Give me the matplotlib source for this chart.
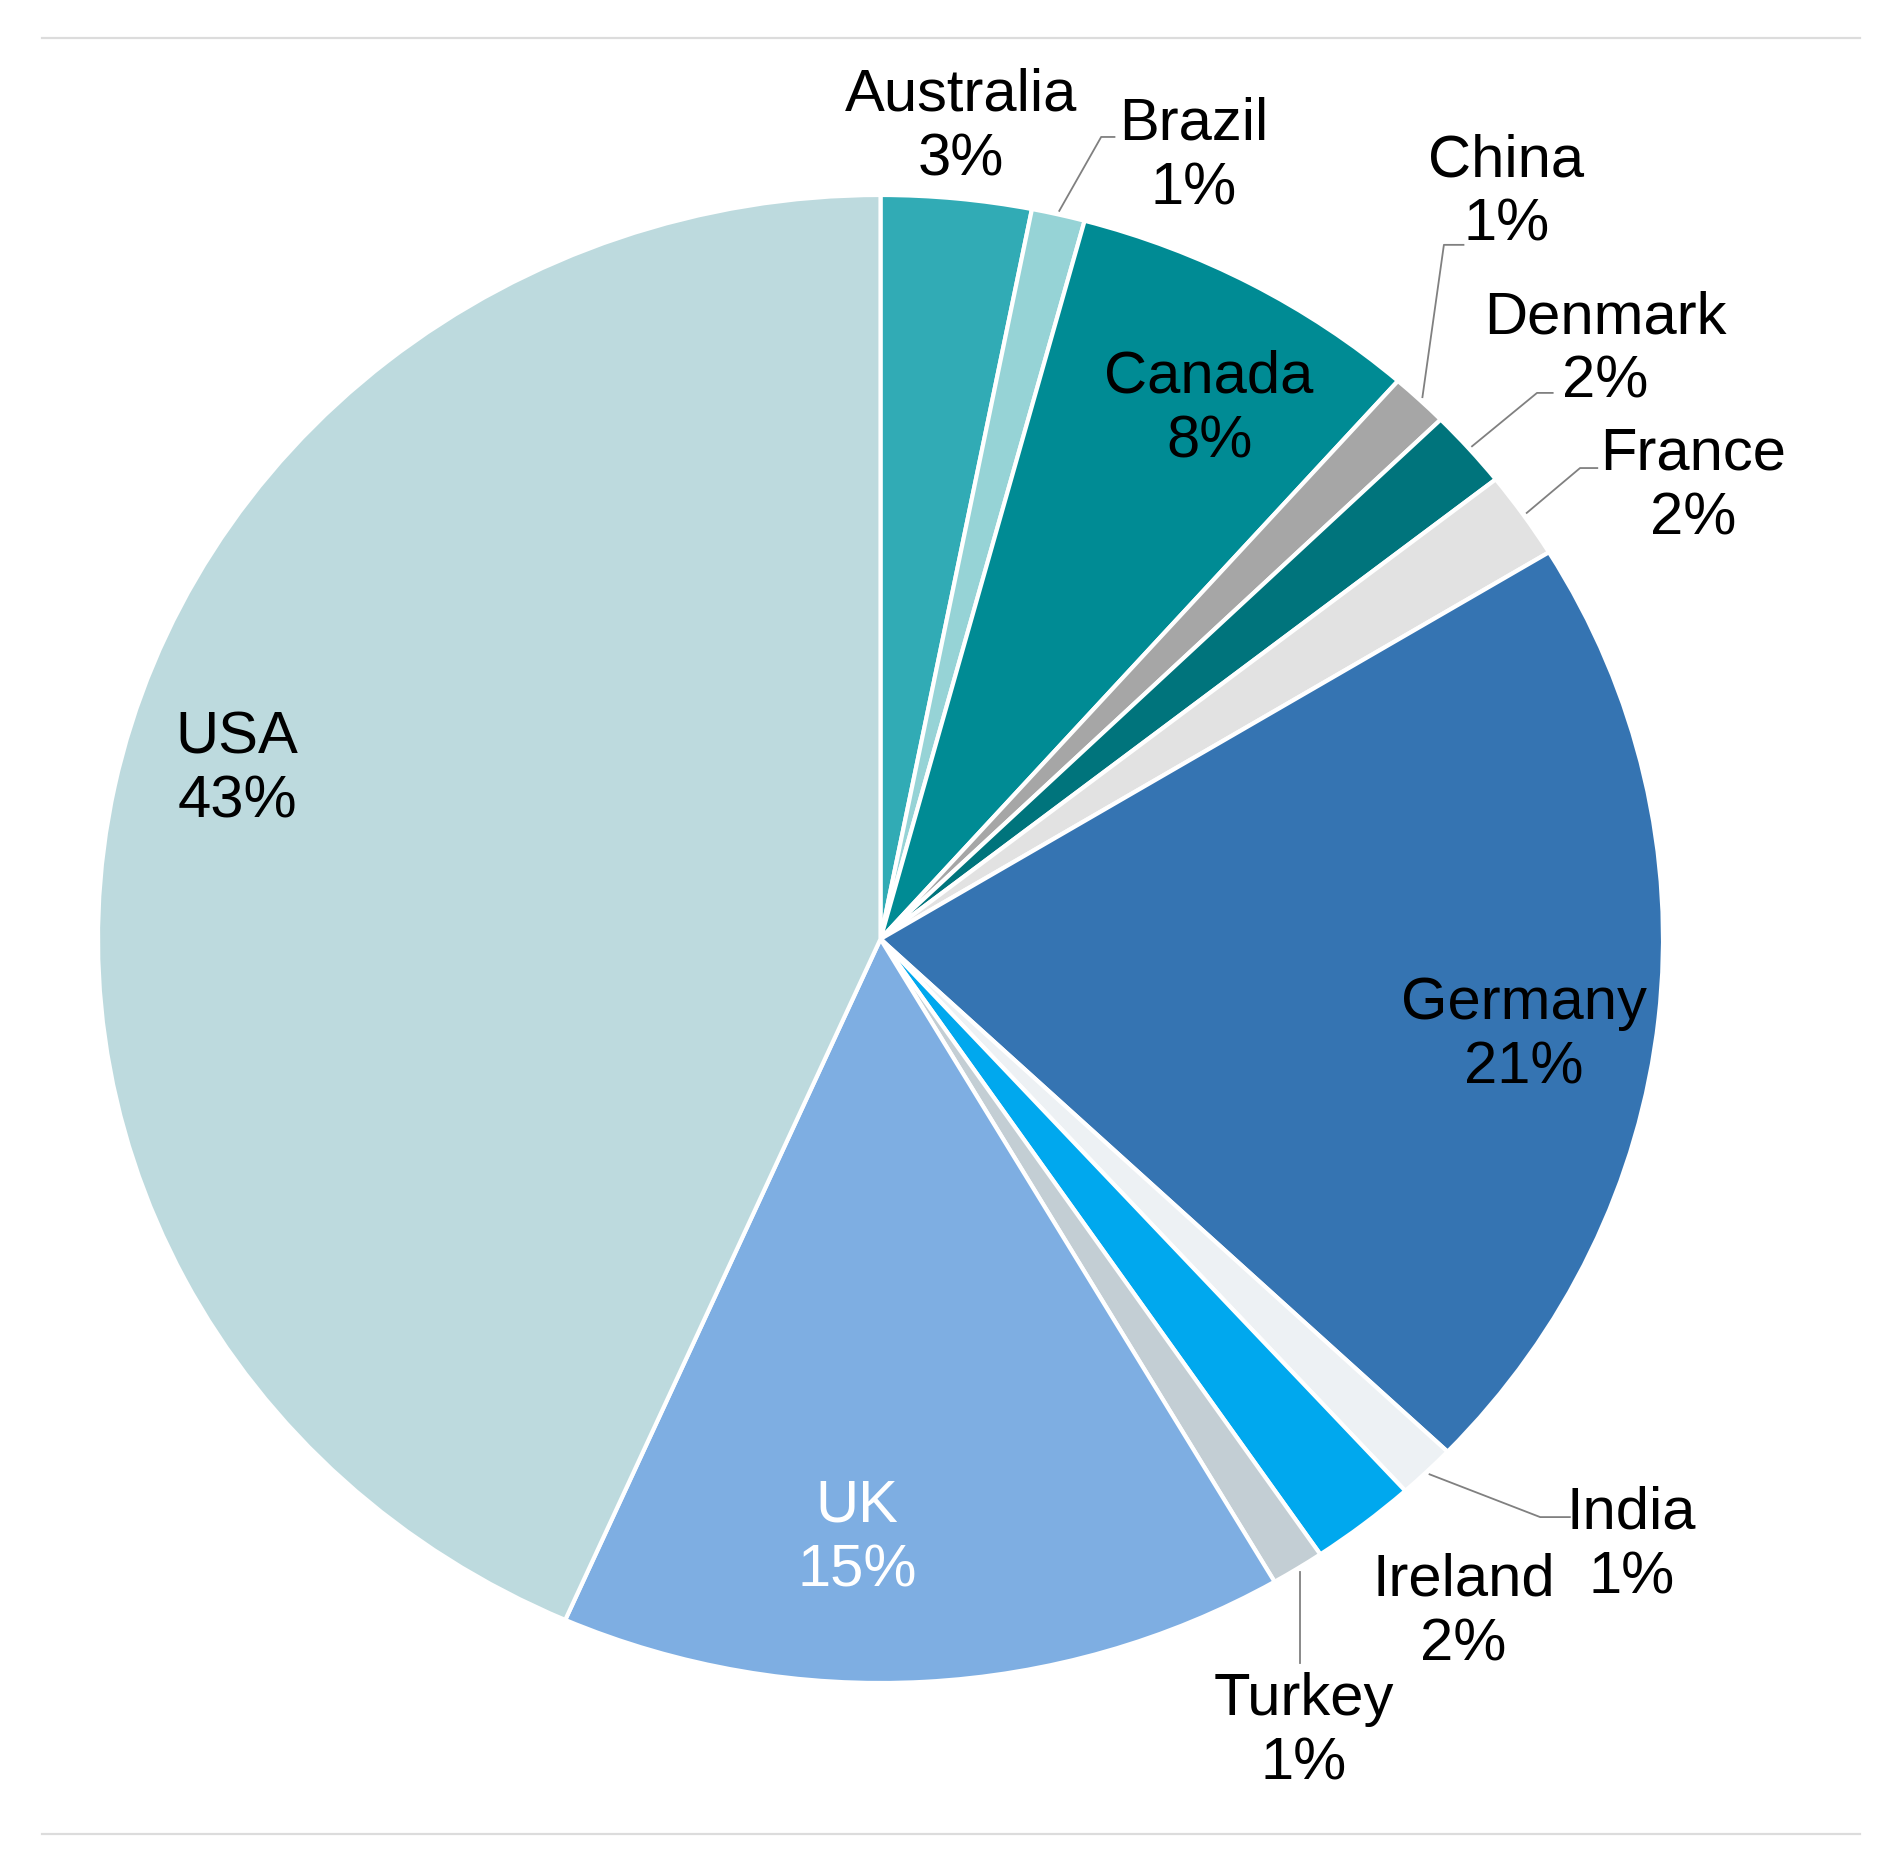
import matplotlib
matplotlib.use("Agg")
import matplotlib.pyplot as plt
from matplotlib.lines import Line2D
import numpy as np

plt.rcParams['font.family'] = ['Liberation Sans', 'DejaVu Sans']

countries = ["Australia", "Brazil", "Canada", "China", "Denmark", "France",
             "Germany", "India", "Ireland", "Turkey", "UK", "USA"]
shares = [3.1, 1.1, 7.3, 1.2, 1.7, 1.9, 20.8, 1.2, 2.2, 1.1, 15.0, 43.4]
pct_labels = ["3%", "1%", "8%", "1%", "2%", "2%", "21%", "1%", "2%", "1%", "15%", "43%"]
colors = ["#31abb5", "#96d3d6", "#008b94", "#a6a6a6", "#00747c", "#e2e2e2",
          "#3574b2", "#edf1f4", "#00a8ee", "#c3ced4", "#7eaee2", "#bddade"]

# label centres in axes data units (pie radius = 1)
label_pos = {
    "Australia": (0.103, 1.091), "Brazil": (0.400, 1.052), "Canada": (0.420, 0.712),
    "China": (0.800, 1.003), "Denmark": (0.926, 0.792), "France": (1.038, 0.608),
    "Germany": (0.822, -0.130), "India": (0.960, -0.815), "Ireland": (0.745, -0.905),
    "Turkey": (0.541, -1.066), "UK": (-0.030, -0.806), "USA": (-0.822, 0.227),
}
# leader elbows after the rim start (None x = straight down from the rim)
leaders = {
    "Brazil": [(0.282, 1.078), (0.299, 1.078)],
    "China": [(0.720, 0.933), (0.745, 0.933)],
    "Denmark": [(0.839, 0.734), (0.859, 0.734)],
    "France": [(0.894, 0.633), (0.916, 0.633)],
    "India": [(0.843, -0.777), (0.881, -0.777)],
    "Turkey": [(None, -0.973)],
}

fig = plt.figure(figsize=(18.8, 18.75), dpi=100)
ax = fig.add_axes([98 / 1880, 1 - 1683 / 1875, (1663 - 98) / 1880, (1683 - 195) / 1875])

wedges, _ = ax.pie(shares, colors=colors, startangle=90, counterclock=False,
                   wedgeprops=dict(edgecolor="white", linewidth=3))
ax.set_aspect("auto")
ax.set_xlim(-1, 1)
ax.set_ylim(-1, 1)
ax.axis("off")

for w, name, pct in zip(wedges, countries, pct_labels):
    x, y = label_pos[name]
    col = "white" if name == "UK" else "black"
    ax.text(x, y, name + "\n" + pct, ha="center", va="center", fontsize=43,
            color=col, linespacing=1.22, clip_on=False)
    if name in leaders:
        mid = np.deg2rad((w.theta1 + w.theta2) / 2)
        x0, y0 = 1.005 * np.cos(mid), 1.005 * np.sin(mid)
        pts = [(x0, y0)] + [(x0 if px is None else px, py) for px, py in leaders[name]]
        xs, ys = zip(*pts)
        ax.plot(xs, ys, color="#808080", lw=1.3, clip_on=False)

for yy in (1 - 38 / 1875, 1 - 1834 / 1875):
    fig.add_artist(Line2D([42 / 1880, 1860 / 1880], [yy, yy], color="#dcdcdc", lw=1.6))

fig.savefig("out.png", dpi=100, facecolor="white")
